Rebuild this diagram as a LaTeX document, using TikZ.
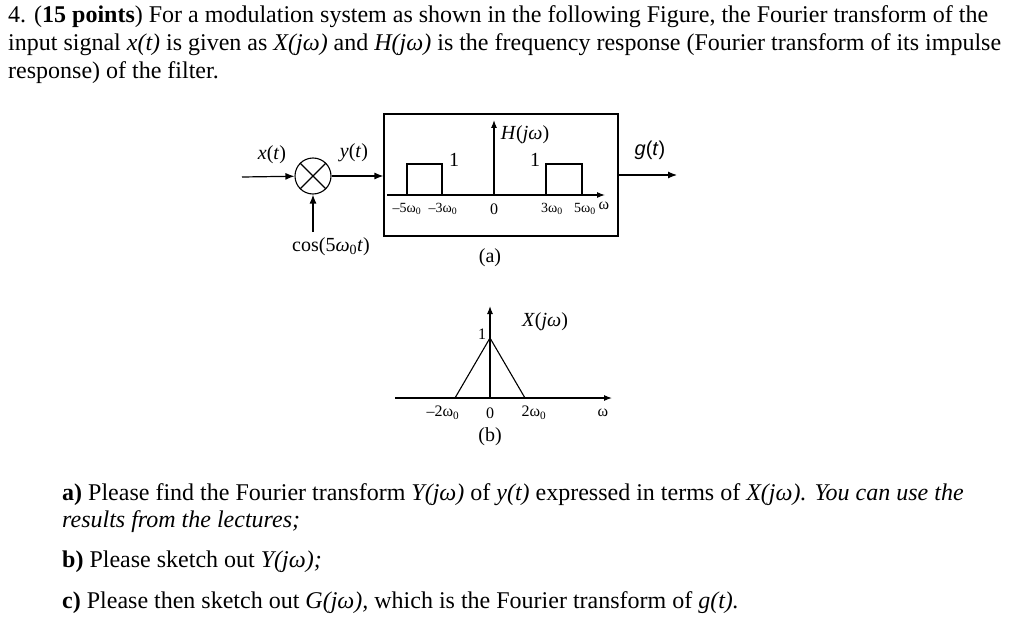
\documentclass[tikz,border=0pt]{standalone}
\usepackage{fontspec}
\usetikzlibrary{arrows.meta}
\setmainfont{Liberation Serif}
\newfontfamily\sansf{Liberation Sans}
\begin{document}
\begin{tikzpicture}[x=1pt,y=-1pt,
  txt/.style={inner sep=0pt,anchor=west,font=\fontsize{24}{28}\selectfont},
  lbl/.style={inner sep=0pt,font=\fontsize{20}{24}\selectfont},
  sml/.style={inner sep=0pt,font=\fontsize{16}{18}\selectfont},
  tiny/.style={inner sep=0pt,font=\fontsize{14}{16}\selectfont},
  arr/.style={-{Latex[length=9pt,width=7pt]},line width=1.2pt},
  ln/.style={line width=1.1pt}]
\useasboundingbox (0,0) rectangle (1009,623);
\node[txt] (l1) at (8,17) {4. (\textbf{15 points}) For a modulation system as shown in the following Figure, the Fourier transform of the};
\node[txt] (l2) at (8,45) {input signal \textit{x(t)} is given as \textit{X(jω)} and \textit{H(jω)} is the frequency response (Fourier transform of its impulse};
\node[txt] (l3) at (8,73) {response) of the filter.};
\node[txt] (q1) at (62,495) {\textbf{a)} Please find the Fourier transform \textit{Y(jω)} of \textit{y(t)} expressed in terms of \textit{X(jω). You can use the}};
\node[txt] (q2) at (62,522) {\textit{results from the lectures;}};
\node[txt] (q3) at (62,562) {\textbf{b)} Please sketch out \textit{Y(jω);}};
\node[txt] (q4) at (62,603) {\textbf{c)} Please then sketch out \textit{G(jω),} which is the Fourier transform of \textit{g(t).}};
% system (a)
\coordinate (in) at (242,177);
\node[draw,circle,ln,minimum size=36pt,inner sep=0pt] (mul) at (313,176) {};
\draw[ln] (mul.45) -- (mul.225) (mul.135) -- (mul.315);
\node[draw,ln,minimum width=234pt,minimum height=122pt,inner sep=0pt] (box) at (501,175) {};
\coordinate (cosin) at (313,232);
\coordinate (out) at (677,175);
\draw[arr] (in) -- (mul);
\draw[arr] (cosin) -- (mul);
\draw[arr] (mul) -- (box.west |- mul);
\draw[arr] (box.east |- out) -- (out);
\node[lbl] (xt) at (272,155) {\textit{x}(\textit{t})};
\node[lbl] (yt) at (354,153) {\textit{y}(\textit{t})};
\node[lbl,font=\sansf\fontsize{20}{24}\selectfont] (gt) at (650,150) {\textit{g}(\textit{t})};
\node[lbl] (cs) at (331,247) {cos(5\textit{ω}\textsubscript{0}\textit{t})};
\node[lbl] (la) at (490,258) {(a)};
% H plot
\coordinate (ha0) at (387,195); \coordinate (ha1) at (605,195);
\coordinate (hv0) at (494,195); \coordinate (hv1) at (494,120);
\draw[-{Latex[length=8pt,width=6pt]},ln] (ha0) -- (ha1);
\draw[-{Latex[length=8pt,width=6pt]},ln] (hv0) -- (hv1);
\draw[ln] (407,195) -- (407,164) -- (442,164) -- (442,195);
\draw[ln] (546,195) -- (546,164) -- (582,164) -- (582,195);
\node[lbl] (h1a) at (454,160) {1};
\node[lbl] (h1b) at (535,160) {1};
\node[lbl] (hl) at (525,135) {\textit{H}(\textit{jω})};
\node[tiny] (t1) at (407,209) {–5ω\textsubscript{0}};
\node[tiny] (t2) at (443,209) {–3ω\textsubscript{0}};
\node[sml] (t3) at (494,209) {0};
\node[tiny] (t4) at (552,209) {3ω\textsubscript{0}};
\node[tiny] (t5) at (585,209) {5ω\textsubscript{0}};
\node[sml] (t6) at (604,206) {ω};
% X plot
\draw[-{Latex[length=8pt,width=6pt]},ln] (395,398) -- (612,398);
\draw[-{Latex[length=8pt,width=6pt]},ln] (490,398) -- (490,306);
\draw[ln] (455,398) -- (490,338) -- (525,398);
\node[lbl] (xl) at (545,322) {\textit{X}(\textit{jω})};
\node[sml] (x1) at (482,334) {1};
\node[sml] (xt1) at (443,413) {–2ω\textsubscript{0}};
\node[sml] (xt2) at (490,413) {0};
\node[sml] (xt3) at (534,413) {2ω\textsubscript{0}};
\node[sml] (xt4) at (603,413) {ω};
\node[lbl] (lb) at (490,437) {(b)};
\end{tikzpicture}
\end{document}
